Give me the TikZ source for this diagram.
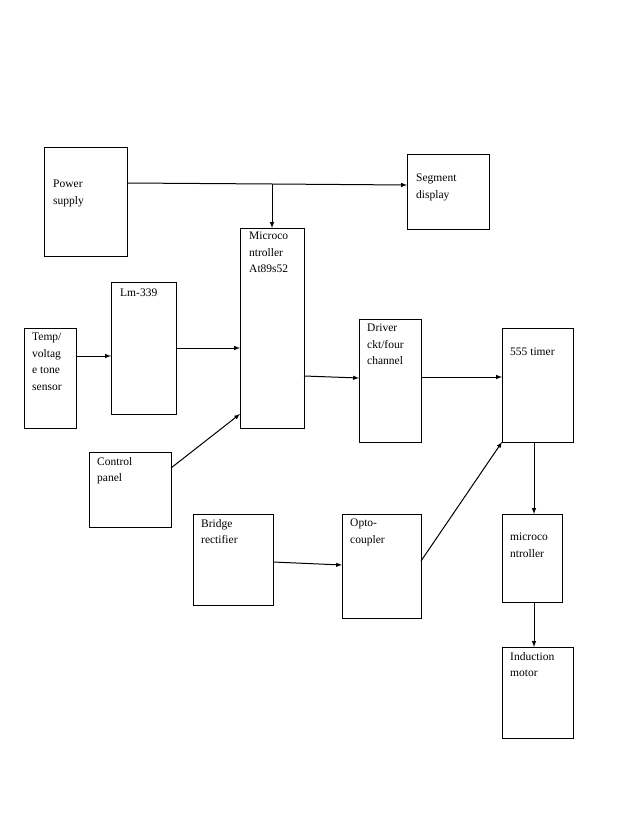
\documentclass[tikz,border=0pt]{standalone}
\usepackage{fontspec}
\setmainfont{Liberation Serif}
\begin{document}
\begin{tikzpicture}[x=1pt,y=-1pt,
  blk/.style={draw,line width=0.8pt},
  lbl/.style={anchor=north west,align=left,inner sep=0pt,font=\fontsize{11.5}{16.5}\selectfont},
  arr/.style={->,>=latex,line width=1pt}]
\useasboundingbox (0,0) rectangle (638,826);
\draw[blk] (44,147) rectangle (127,256); \node[lbl] (tps) at (53,180) {Power\\supply};
\coordinate (ps) at (127,183);
\draw[blk] (407,154) rectangle (489,229); \node[lbl] (tsd) at (416,174) {Segment\\display};
\coordinate (sd) at (407,185);
\draw[blk] (240,228) rectangle (304,428); \node[lbl] (tmc) at (249,232) {Microco\\ntroller\\At89s52};
\draw[blk] (111,282) rectangle (176,414); \node[lbl] (tlm) at (120,289) {Lm-339};
\draw[blk] (24,328) rectangle (76,428); \node[lbl] (tts) at (32,333) {Temp/\\voltag\\e tone\\sensor};
\draw[blk] (359,319) rectangle (421,442); \node[lbl] (tdr) at (367,324) {Driver\\ckt/four\\channel};
\draw[blk] (502,328) rectangle (573,442); \node[lbl] (t555) at (510,348) {555 timer};
\draw[blk] (89,452) rectangle (171,527); \node[lbl] (tcp) at (97,457) {Control\\panel};
\draw[blk] (193,514) rectangle (273,605); \node[lbl] (tbr) at (201,519) {Bridge\\rectifier};
\draw[blk] (342,514) rectangle (421,618); \node[lbl] (toc) at (350,519) {Opto-\\coupler};
\draw[blk] (502,514) rectangle (562,602); \node[lbl] (tm2) at (510,533) {microco\\ntroller};
\draw[blk] (502,647) rectangle (573,738); \node[lbl] (tim) at (510,652) {Induction\\motor};
\coordinate (j) at (272,184);
\draw[arr] (ps) -- (j) -- (sd);
\draw[arr] (j) -- (272,228);
\draw[arr] (76,356) -- (111,356);
\draw[arr] (176,348) -- (240,348);
\draw[arr] (171,468) -- (240,414);
\draw[arr] (304,376) -- (359,378);
\draw[arr] (421,377) -- (502,377);
\draw[arr] (273,562) -- (342,565);
\draw[arr] (421,561) -- (502,442);
\draw[arr] (534,442) -- (534,514);
\draw[arr] (534,602) -- (534,647);
\end{tikzpicture}
\end{document}
